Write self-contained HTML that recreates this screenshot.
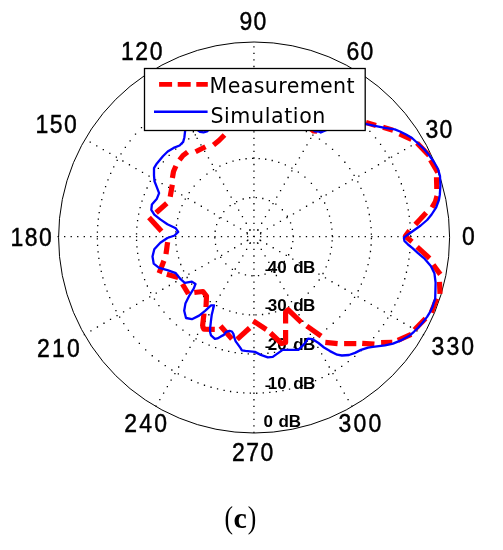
<!DOCTYPE html>
<html><head><meta charset="utf-8"><style>
html,body{margin:0;padding:0;background:#fff;}
svg{display:block;}
.ang{font-family:"Liberation Sans",Arial,sans-serif;font-size:25px;letter-spacing:1.3px;fill:#000;stroke:#000;stroke-width:0.45px;}
.db{font-family:"Liberation Sans",Arial,sans-serif;font-weight:bold;font-size:17px;fill:#000;}
.mn{font-size:20px;font-weight:normal;}
.red{fill:none;stroke:#f00;stroke-width:5.2;stroke-linejoin:round;stroke-linecap:butt;}
.leg{font-family:"DejaVu Sans",sans-serif;font-size:20.6px;fill:#000;}
.cap{font-family:"Liberation Serif",serif;font-size:30px;fill:#000;}
</style></head><body>
<svg width="503" height="550" viewBox="0 0 503 550">
<rect width="503" height="550" fill="#fff"/>
<g>
<path d="M57.5 236h1.3v1.3h-1.3zM64.03 236h1.3v1.3h-1.3zM70.57 236h1.3v1.3h-1.3zM77.1 236h1.3v1.3h-1.3zM83.64 236h1.3v1.3h-1.3zM90.17 236h1.3v1.3h-1.3zM96.71 236h1.3v1.3h-1.3zM103.24 236h1.3v1.3h-1.3zM109.78 236h1.3v1.3h-1.3zM116.31 236h1.3v1.3h-1.3zM122.85 236h1.3v1.3h-1.3zM129.38 236h1.3v1.3h-1.3zM135.92 236h1.3v1.3h-1.3zM142.45 236h1.3v1.3h-1.3zM148.99 236h1.3v1.3h-1.3zM155.52 236h1.3v1.3h-1.3zM162.06 236h1.3v1.3h-1.3zM168.59 236h1.3v1.3h-1.3zM175.13 236h1.3v1.3h-1.3zM181.66 236h1.3v1.3h-1.3zM188.2 236h1.3v1.3h-1.3zM194.73 236h1.3v1.3h-1.3zM201.27 236h1.3v1.3h-1.3zM207.8 236h1.3v1.3h-1.3zM214.34 236h1.3v1.3h-1.3zM220.87 236h1.3v1.3h-1.3zM227.41 236h1.3v1.3h-1.3zM233.94 236h1.3v1.3h-1.3zM240.48 236h1.3v1.3h-1.3zM247.01 236h1.3v1.3h-1.3zM253.55 236h1.3v1.3h-1.3zM260.09 236h1.3v1.3h-1.3zM266.62 236h1.3v1.3h-1.3zM273.15 236h1.3v1.3h-1.3zM279.69 236h1.3v1.3h-1.3zM286.23 236h1.3v1.3h-1.3zM292.76 236h1.3v1.3h-1.3zM299.3 236h1.3v1.3h-1.3zM305.83 236h1.3v1.3h-1.3zM312.37 236h1.3v1.3h-1.3zM318.9 236h1.3v1.3h-1.3zM325.44 236h1.3v1.3h-1.3zM331.97 236h1.3v1.3h-1.3zM338.5 236h1.3v1.3h-1.3zM345.04 236h1.3v1.3h-1.3zM351.57 236h1.3v1.3h-1.3zM358.11 236h1.3v1.3h-1.3zM364.64 236h1.3v1.3h-1.3zM371.18 236h1.3v1.3h-1.3zM377.72 236h1.3v1.3h-1.3zM384.25 236h1.3v1.3h-1.3zM390.79 236h1.3v1.3h-1.3zM397.32 236h1.3v1.3h-1.3zM403.86 236h1.3v1.3h-1.3zM410.39 236h1.3v1.3h-1.3zM416.93 236h1.3v1.3h-1.3zM423.46 236h1.3v1.3h-1.3zM430 236h1.3v1.3h-1.3zM436.53 236h1.3v1.3h-1.3zM443.06 236h1.3v1.3h-1.3zM83.73 333.9h1.3v1.3h-1.3zM90.27 330.13h1.3v1.3h-1.3zM96.8 326.35h1.3v1.3h-1.3zM103.34 322.58h1.3v1.3h-1.3zM109.87 318.81h1.3v1.3h-1.3zM116.41 315.04h1.3v1.3h-1.3zM122.94 311.26h1.3v1.3h-1.3zM129.48 307.49h1.3v1.3h-1.3zM136.01 303.72h1.3v1.3h-1.3zM142.55 299.94h1.3v1.3h-1.3zM149.08 296.17h1.3v1.3h-1.3zM155.62 292.4h1.3v1.3h-1.3zM162.15 288.62h1.3v1.3h-1.3zM168.69 284.85h1.3v1.3h-1.3zM175.22 281.08h1.3v1.3h-1.3zM181.76 277.31h1.3v1.3h-1.3zM188.29 273.53h1.3v1.3h-1.3zM194.83 269.76h1.3v1.3h-1.3zM201.36 265.99h1.3v1.3h-1.3zM207.9 262.21h1.3v1.3h-1.3zM214.43 258.44h1.3v1.3h-1.3zM220.97 254.67h1.3v1.3h-1.3zM227.5 250.89h1.3v1.3h-1.3zM234.04 247.12h1.3v1.3h-1.3zM240.57 243.35h1.3v1.3h-1.3zM247.11 239.58h1.3v1.3h-1.3zM253.64 235.8h1.3v1.3h-1.3zM260.18 232.03h1.3v1.3h-1.3zM266.71 228.26h1.3v1.3h-1.3zM273.25 224.48h1.3v1.3h-1.3zM279.78 220.71h1.3v1.3h-1.3zM286.32 216.94h1.3v1.3h-1.3zM292.85 213.16h1.3v1.3h-1.3zM299.39 209.39h1.3v1.3h-1.3zM305.92 205.62h1.3v1.3h-1.3zM312.46 201.85h1.3v1.3h-1.3zM318.99 198.07h1.3v1.3h-1.3zM325.53 194.3h1.3v1.3h-1.3zM332.06 190.53h1.3v1.3h-1.3zM338.6 186.75h1.3v1.3h-1.3zM345.13 182.98h1.3v1.3h-1.3zM351.67 179.21h1.3v1.3h-1.3zM358.2 175.43h1.3v1.3h-1.3zM364.74 171.66h1.3v1.3h-1.3zM371.27 167.89h1.3v1.3h-1.3zM377.81 164.12h1.3v1.3h-1.3zM384.34 160.34h1.3v1.3h-1.3zM390.88 156.57h1.3v1.3h-1.3zM397.41 152.8h1.3v1.3h-1.3zM403.95 149.02h1.3v1.3h-1.3zM410.48 145.25h1.3v1.3h-1.3zM417.02 141.48h1.3v1.3h-1.3zM155.4 405.57h1.3v1.3h-1.3zM159.17 399.03h1.3v1.3h-1.3zM162.95 392.5h1.3v1.3h-1.3zM166.72 385.96h1.3v1.3h-1.3zM170.49 379.43h1.3v1.3h-1.3zM174.26 372.89h1.3v1.3h-1.3zM178.04 366.36h1.3v1.3h-1.3zM181.81 359.82h1.3v1.3h-1.3zM185.58 353.29h1.3v1.3h-1.3zM189.36 346.75h1.3v1.3h-1.3zM193.13 340.22h1.3v1.3h-1.3zM196.9 333.68h1.3v1.3h-1.3zM200.68 327.15h1.3v1.3h-1.3zM204.45 320.61h1.3v1.3h-1.3zM208.22 314.08h1.3v1.3h-1.3zM211.99 307.54h1.3v1.3h-1.3zM215.77 301.01h1.3v1.3h-1.3zM219.54 294.47h1.3v1.3h-1.3zM223.31 287.94h1.3v1.3h-1.3zM227.09 281.4h1.3v1.3h-1.3zM230.86 274.87h1.3v1.3h-1.3zM234.63 268.33h1.3v1.3h-1.3zM238.41 261.8h1.3v1.3h-1.3zM242.18 255.26h1.3v1.3h-1.3zM245.95 248.73h1.3v1.3h-1.3zM249.72 242.19h1.3v1.3h-1.3zM253.5 235.66h1.3v1.3h-1.3zM257.27 229.12h1.3v1.3h-1.3zM261.04 222.59h1.3v1.3h-1.3zM264.82 216.05h1.3v1.3h-1.3zM268.59 209.52h1.3v1.3h-1.3zM272.36 202.98h1.3v1.3h-1.3zM276.14 196.45h1.3v1.3h-1.3zM279.91 189.91h1.3v1.3h-1.3zM283.68 183.38h1.3v1.3h-1.3zM287.45 176.84h1.3v1.3h-1.3zM291.23 170.31h1.3v1.3h-1.3zM295 163.77h1.3v1.3h-1.3zM298.77 157.24h1.3v1.3h-1.3zM302.55 150.7h1.3v1.3h-1.3zM306.32 144.17h1.3v1.3h-1.3zM310.09 137.63h1.3v1.3h-1.3zM313.87 131.1h1.3v1.3h-1.3zM317.64 124.56h1.3v1.3h-1.3zM321.41 118.03h1.3v1.3h-1.3zM325.18 111.49h1.3v1.3h-1.3zM328.96 104.96h1.3v1.3h-1.3zM332.73 98.42h1.3v1.3h-1.3zM336.5 91.89h1.3v1.3h-1.3zM340.28 85.35h1.3v1.3h-1.3zM344.05 78.82h1.3v1.3h-1.3zM347.82 72.28h1.3v1.3h-1.3zM253.3 431.8h1.3v1.3h-1.3zM253.3 425.27h1.3v1.3h-1.3zM253.3 418.73h1.3v1.3h-1.3zM253.3 412.2h1.3v1.3h-1.3zM253.3 405.66h1.3v1.3h-1.3zM253.3 399.12h1.3v1.3h-1.3zM253.3 392.59h1.3v1.3h-1.3zM253.3 386.06h1.3v1.3h-1.3zM253.3 379.52h1.3v1.3h-1.3zM253.3 372.99h1.3v1.3h-1.3zM253.3 366.45h1.3v1.3h-1.3zM253.3 359.92h1.3v1.3h-1.3zM253.3 353.38h1.3v1.3h-1.3zM253.3 346.85h1.3v1.3h-1.3zM253.3 340.31h1.3v1.3h-1.3zM253.3 333.78h1.3v1.3h-1.3zM253.3 327.24h1.3v1.3h-1.3zM253.3 320.71h1.3v1.3h-1.3zM253.3 314.17h1.3v1.3h-1.3zM253.3 307.64h1.3v1.3h-1.3zM253.3 301.1h1.3v1.3h-1.3zM253.3 294.57h1.3v1.3h-1.3zM253.3 288.03h1.3v1.3h-1.3zM253.3 281.5h1.3v1.3h-1.3zM253.3 274.96h1.3v1.3h-1.3zM253.3 268.43h1.3v1.3h-1.3zM253.3 261.89h1.3v1.3h-1.3zM253.3 255.35h1.3v1.3h-1.3zM253.3 248.82h1.3v1.3h-1.3zM253.3 242.28h1.3v1.3h-1.3zM253.3 235.75h1.3v1.3h-1.3zM253.3 229.22h1.3v1.3h-1.3zM253.3 222.68h1.3v1.3h-1.3zM253.3 216.15h1.3v1.3h-1.3zM253.3 209.61h1.3v1.3h-1.3zM253.3 203.08h1.3v1.3h-1.3zM253.3 196.54h1.3v1.3h-1.3zM253.3 190h1.3v1.3h-1.3zM253.3 183.47h1.3v1.3h-1.3zM253.3 176.94h1.3v1.3h-1.3zM253.3 170.4h1.3v1.3h-1.3zM253.3 163.87h1.3v1.3h-1.3zM253.3 157.33h1.3v1.3h-1.3zM253.3 150.8h1.3v1.3h-1.3zM253.3 144.26h1.3v1.3h-1.3zM253.3 137.73h1.3v1.3h-1.3zM253.3 131.19h1.3v1.3h-1.3zM253.3 124.66h1.3v1.3h-1.3zM253.3 118.12h1.3v1.3h-1.3zM253.3 111.58h1.3v1.3h-1.3zM253.3 105.05h1.3v1.3h-1.3zM253.3 98.51h1.3v1.3h-1.3zM253.3 91.98h1.3v1.3h-1.3zM253.3 85.44h1.3v1.3h-1.3zM253.3 78.91h1.3v1.3h-1.3zM253.3 72.38h1.3v1.3h-1.3zM253.3 65.84h1.3v1.3h-1.3zM253.3 59.31h1.3v1.3h-1.3zM253.3 52.77h1.3v1.3h-1.3zM253.3 46.24h1.3v1.3h-1.3zM351.2 405.57h1.3v1.3h-1.3zM347.43 399.03h1.3v1.3h-1.3zM343.65 392.5h1.3v1.3h-1.3zM339.88 385.96h1.3v1.3h-1.3zM336.11 379.43h1.3v1.3h-1.3zM332.34 372.89h1.3v1.3h-1.3zM328.56 366.36h1.3v1.3h-1.3zM324.79 359.82h1.3v1.3h-1.3zM321.02 353.29h1.3v1.3h-1.3zM317.24 346.75h1.3v1.3h-1.3zM313.47 340.22h1.3v1.3h-1.3zM309.7 333.68h1.3v1.3h-1.3zM305.92 327.15h1.3v1.3h-1.3zM302.15 320.61h1.3v1.3h-1.3zM298.38 314.08h1.3v1.3h-1.3zM294.61 307.54h1.3v1.3h-1.3zM290.83 301.01h1.3v1.3h-1.3zM287.06 294.47h1.3v1.3h-1.3zM283.29 287.94h1.3v1.3h-1.3zM279.51 281.4h1.3v1.3h-1.3zM275.74 274.87h1.3v1.3h-1.3zM271.97 268.33h1.3v1.3h-1.3zM268.19 261.8h1.3v1.3h-1.3zM264.42 255.26h1.3v1.3h-1.3zM260.65 248.73h1.3v1.3h-1.3zM256.88 242.19h1.3v1.3h-1.3zM253.1 235.66h1.3v1.3h-1.3zM249.33 229.12h1.3v1.3h-1.3zM245.56 222.59h1.3v1.3h-1.3zM241.78 216.05h1.3v1.3h-1.3zM238.01 209.52h1.3v1.3h-1.3zM234.24 202.98h1.3v1.3h-1.3zM230.46 196.45h1.3v1.3h-1.3zM226.69 189.91h1.3v1.3h-1.3zM222.92 183.38h1.3v1.3h-1.3zM219.15 176.84h1.3v1.3h-1.3zM215.37 170.31h1.3v1.3h-1.3zM211.6 163.77h1.3v1.3h-1.3zM207.83 157.24h1.3v1.3h-1.3zM204.05 150.7h1.3v1.3h-1.3zM200.28 144.17h1.3v1.3h-1.3zM196.51 137.63h1.3v1.3h-1.3zM192.73 131.1h1.3v1.3h-1.3zM188.96 124.56h1.3v1.3h-1.3zM185.19 118.03h1.3v1.3h-1.3zM181.42 111.49h1.3v1.3h-1.3zM177.64 104.96h1.3v1.3h-1.3zM173.87 98.42h1.3v1.3h-1.3zM170.1 91.89h1.3v1.3h-1.3zM166.32 85.35h1.3v1.3h-1.3zM162.55 78.82h1.3v1.3h-1.3zM158.78 72.28h1.3v1.3h-1.3zM422.87 333.9h1.3v1.3h-1.3zM416.33 330.13h1.3v1.3h-1.3zM409.8 326.35h1.3v1.3h-1.3zM403.26 322.58h1.3v1.3h-1.3zM396.73 318.81h1.3v1.3h-1.3zM390.19 315.04h1.3v1.3h-1.3zM383.66 311.26h1.3v1.3h-1.3zM377.12 307.49h1.3v1.3h-1.3zM370.59 303.72h1.3v1.3h-1.3zM364.05 299.94h1.3v1.3h-1.3zM357.52 296.17h1.3v1.3h-1.3zM350.98 292.4h1.3v1.3h-1.3zM344.45 288.62h1.3v1.3h-1.3zM337.91 284.85h1.3v1.3h-1.3zM331.38 281.08h1.3v1.3h-1.3zM324.84 277.31h1.3v1.3h-1.3zM318.31 273.53h1.3v1.3h-1.3zM311.77 269.76h1.3v1.3h-1.3zM305.24 265.99h1.3v1.3h-1.3zM298.7 262.21h1.3v1.3h-1.3zM292.17 258.44h1.3v1.3h-1.3zM285.63 254.67h1.3v1.3h-1.3zM279.1 250.89h1.3v1.3h-1.3zM272.56 247.12h1.3v1.3h-1.3zM266.03 243.35h1.3v1.3h-1.3zM259.49 239.58h1.3v1.3h-1.3zM252.96 235.8h1.3v1.3h-1.3zM246.42 232.03h1.3v1.3h-1.3zM239.89 228.26h1.3v1.3h-1.3zM233.35 224.48h1.3v1.3h-1.3zM226.82 220.71h1.3v1.3h-1.3zM220.28 216.94h1.3v1.3h-1.3zM213.75 213.16h1.3v1.3h-1.3zM207.21 209.39h1.3v1.3h-1.3zM200.68 205.62h1.3v1.3h-1.3zM194.14 201.85h1.3v1.3h-1.3zM187.61 198.07h1.3v1.3h-1.3zM181.07 194.3h1.3v1.3h-1.3zM174.54 190.53h1.3v1.3h-1.3zM168 186.75h1.3v1.3h-1.3zM161.47 182.98h1.3v1.3h-1.3zM154.93 179.21h1.3v1.3h-1.3zM148.4 175.43h1.3v1.3h-1.3zM141.86 171.66h1.3v1.3h-1.3zM135.33 167.89h1.3v1.3h-1.3zM128.79 164.12h1.3v1.3h-1.3zM122.26 160.34h1.3v1.3h-1.3zM115.72 156.57h1.3v1.3h-1.3zM109.19 152.8h1.3v1.3h-1.3zM102.65 149.02h1.3v1.3h-1.3zM96.12 145.25h1.3v1.3h-1.3zM89.58 141.48h1.3v1.3h-1.3zM292.44 235.22h1.3v1.3h-1.3zM291.76 228.7h1.3v1.3h-1.3zM289.92 222.16h1.3v1.3h-1.3zM286.72 215.61h1.3v1.3h-1.3zM281.73 209.08h1.3v1.3h-1.3zM275.24 203.57h1.3v1.3h-1.3zM268.7 200.01h1.3v1.3h-1.3zM262.16 197.87h1.3v1.3h-1.3zM255.64 196.92h1.3v1.3h-1.3zM249.09 197.08h1.3v1.3h-1.3zM242.54 198.36h1.3v1.3h-1.3zM236 200.88h1.3v1.3h-1.3zM229.47 204.94h1.3v1.3h-1.3zM223.19 210.98h1.3v1.3h-1.3zM218.78 217.54h1.3v1.3h-1.3zM216.02 224.06h1.3v1.3h-1.3zM214.52 230.61h1.3v1.3h-1.3zM214.17 237.15h1.3v1.3h-1.3zM214.91 243.66h1.3v1.3h-1.3zM216.81 250.18h1.3v1.3h-1.3zM220.09 256.73h1.3v1.3h-1.3zM225.21 263.27h1.3v1.3h-1.3zM231.74 268.68h1.3v1.3h-1.3zM238.28 272.15h1.3v1.3h-1.3zM244.8 274.22h1.3v1.3h-1.3zM251.33 275.1h1.3v1.3h-1.3zM257.88 274.88h1.3v1.3h-1.3zM264.42 273.54h1.3v1.3h-1.3zM270.96 270.94h1.3v1.3h-1.3zM277.49 266.78h1.3v1.3h-1.3zM283.73 260.64h1.3v1.3h-1.3zM288.01 254.1h1.3v1.3h-1.3zM290.7 247.59h1.3v1.3h-1.3zM292.13 241.03h1.3v1.3h-1.3zM331.59 235.1h1.3v1.3h-1.3zM331.24 228.55h1.3v1.3h-1.3zM330.33 221.97h1.3v1.3h-1.3zM328.85 215.42h1.3v1.3h-1.3zM326.77 208.94h1.3v1.3h-1.3zM324.01 202.37h1.3v1.3h-1.3zM320.53 195.86h1.3v1.3h-1.3zM316.16 189.32h1.3v1.3h-1.3zM310.77 182.82h1.3v1.3h-1.3zM304.28 176.57h1.3v1.3h-1.3zM297.72 171.52h1.3v1.3h-1.3zM291.24 167.5h1.3v1.3h-1.3zM284.7 164.27h1.3v1.3h-1.3zM278.12 161.74h1.3v1.3h-1.3zM271.58 159.86h1.3v1.3h-1.3zM265.06 158.59h1.3v1.3h-1.3zM258.54 157.88h1.3v1.3h-1.3zM251.99 157.71h1.3v1.3h-1.3zM245.44 158.1h1.3v1.3h-1.3zM238.95 159.03h1.3v1.3h-1.3zM232.4 160.54h1.3v1.3h-1.3zM225.85 162.67h1.3v1.3h-1.3zM219.3 165.47h1.3v1.3h-1.3zM212.81 168.98h1.3v1.3h-1.3zM206.29 173.38h1.3v1.3h-1.3zM199.7 178.92h1.3v1.3h-1.3zM193.55 185.4h1.3v1.3h-1.3zM188.59 191.92h1.3v1.3h-1.3zM184.61 198.42h1.3v1.3h-1.3zM181.41 204.98h1.3v1.3h-1.3zM178.93 211.49h1.3v1.3h-1.3zM177.09 218.04h1.3v1.3h-1.3zM175.84 224.56h1.3v1.3h-1.3zM175.15 231.17h1.3v1.3h-1.3zM175.02 237.64h1.3v1.3h-1.3zM175.43 244.18h1.3v1.3h-1.3zM176.4 250.75h1.3v1.3h-1.3zM177.95 257.29h1.3v1.3h-1.3zM180.11 263.83h1.3v1.3h-1.3zM182.91 270.3h1.3v1.3h-1.3zM186.5 276.84h1.3v1.3h-1.3zM190.98 283.41h1.3v1.3h-1.3zM196.56 289.96h1.3v1.3h-1.3zM203.01 296.02h1.3v1.3h-1.3zM209.56 300.94h1.3v1.3h-1.3zM216.08 304.89h1.3v1.3h-1.3zM222.66 308.05h1.3v1.3h-1.3zM229.18 310.49h1.3v1.3h-1.3zM235.74 312.31h1.3v1.3h-1.3zM242.27 313.52h1.3v1.3h-1.3zM248.79 314.17h1.3v1.3h-1.3zM255.35 314.27h1.3v1.3h-1.3zM261.89 313.83h1.3v1.3h-1.3zM268.37 312.84h1.3v1.3h-1.3zM274.91 311.26h1.3v1.3h-1.3zM281.44 309.07h1.3v1.3h-1.3zM287.97 306.21h1.3v1.3h-1.3zM294.56 302.55h1.3v1.3h-1.3zM301.1 298.02h1.3v1.3h-1.3zM307.61 292.4h1.3v1.3h-1.3zM313.63 285.91h1.3v1.3h-1.3zM318.52 279.33h1.3v1.3h-1.3zM322.38 272.86h1.3v1.3h-1.3zM325.51 266.27h1.3v1.3h-1.3zM327.92 259.73h1.3v1.3h-1.3zM329.68 253.24h1.3v1.3h-1.3zM330.86 246.71h1.3v1.3h-1.3zM331.49 240.18h1.3v1.3h-1.3zM370.72 233.42h1.3v1.3h-1.3zM370.4 226.91h1.3v1.3h-1.3zM369.71 220.43h1.3v1.3h-1.3zM368.65 213.87h1.3v1.3h-1.3zM367.18 207.27h1.3v1.3h-1.3zM365.34 200.76h1.3v1.3h-1.3zM363.08 194.25h1.3v1.3h-1.3zM360.34 187.67h1.3v1.3h-1.3zM357.16 181.15h1.3v1.3h-1.3zM353.44 174.63h1.3v1.3h-1.3zM349.11 168.06h1.3v1.3h-1.3zM344.19 161.61h1.3v1.3h-1.3zM338.41 155.06h1.3v1.3h-1.3zM331.89 148.72h1.3v1.3h-1.3zM325.38 143.27h1.3v1.3h-1.3zM318.81 138.52h1.3v1.3h-1.3zM312.24 134.41h1.3v1.3h-1.3zM305.74 130.91h1.3v1.3h-1.3zM299.27 127.92h1.3v1.3h-1.3zM292.62 125.33h1.3v1.3h-1.3zM286.19 123.25h1.3v1.3h-1.3zM279.64 121.54h1.3v1.3h-1.3zM273.01 120.22h1.3v1.3h-1.3zM266.55 119.3h1.3v1.3h-1.3zM259.94 118.74h1.3v1.3h-1.3zM253.42 118.55h1.3v1.3h-1.3zM246.91 118.72h1.3v1.3h-1.3zM240.41 119.26h1.3v1.3h-1.3zM233.83 120.17h1.3v1.3h-1.3zM227.32 121.46h1.3v1.3h-1.3zM220.77 123.15h1.3v1.3h-1.3zM214.21 125.25h1.3v1.3h-1.3zM207.67 127.77h1.3v1.3h-1.3zM201.19 130.74h1.3v1.3h-1.3zM194.68 134.22h1.3v1.3h-1.3zM188.1 138.31h1.3v1.3h-1.3zM181.61 142.97h1.3v1.3h-1.3zM175.08 148.39h1.3v1.3h-1.3zM168.53 154.71h1.3v1.3h-1.3zM162.72 161.23h1.3v1.3h-1.3zM157.71 167.76h1.3v1.3h-1.3zM153.35 174.32h1.3v1.3h-1.3zM149.62 180.82h1.3v1.3h-1.3zM146.41 187.33h1.3v1.3h-1.3zM143.65 193.91h1.3v1.3h-1.3zM141.37 200.41h1.3v1.3h-1.3zM139.48 207.03h1.3v1.3h-1.3zM138.02 213.51h1.3v1.3h-1.3zM136.94 220.06h1.3v1.3h-1.3zM136.23 226.54h1.3v1.3h-1.3zM135.88 233.17h1.3v1.3h-1.3zM135.91 239.69h1.3v1.3h-1.3zM136.29 246.2h1.3v1.3h-1.3zM137.04 252.67h1.3v1.3h-1.3zM138.17 259.21h1.3v1.3h-1.3zM139.69 265.8h1.3v1.3h-1.3zM141.6 272.29h1.3v1.3h-1.3zM143.96 278.89h1.3v1.3h-1.3zM146.72 285.34h1.3v1.3h-1.3zM150.02 291.93h1.3v1.3h-1.3zM153.81 298.41h1.3v1.3h-1.3zM158.28 305.04h1.3v1.3h-1.3zM163.35 311.53h1.3v1.3h-1.3zM169.3 318.09h1.3v1.3h-1.3zM175.81 324.26h1.3v1.3h-1.3zM182.29 329.55h1.3v1.3h-1.3zM188.82 334.17h1.3v1.3h-1.3zM195.43 338.2h1.3v1.3h-1.3zM201.96 341.64h1.3v1.3h-1.3zM208.47 344.56h1.3v1.3h-1.3zM215.02 347.04h1.3v1.3h-1.3zM221.6 349.09h1.3v1.3h-1.3zM228.04 350.7h1.3v1.3h-1.3zM234.56 351.95h1.3v1.3h-1.3zM241.15 352.82h1.3v1.3h-1.3zM247.64 353.31h1.3v1.3h-1.3zM254.28 353.45h1.3v1.3h-1.3zM260.8 353.21h1.3v1.3h-1.3zM267.29 352.61h1.3v1.3h-1.3zM273.86 351.64h1.3v1.3h-1.3zM280.36 350.29h1.3v1.3h-1.3zM286.89 348.54h1.3v1.3h-1.3zM293.43 346.38h1.3v1.3h-1.3zM299.95 343.79h1.3v1.3h-1.3zM306.51 340.7h1.3v1.3h-1.3zM312.98 337.16h1.3v1.3h-1.3zM319.52 333h1.3v1.3h-1.3zM326.06 328.2h1.3v1.3h-1.3zM332.62 322.62h1.3v1.3h-1.3zM339.09 316.22h1.3v1.3h-1.3zM344.73 309.72h1.3v1.3h-1.3zM349.67 303.13h1.3v1.3h-1.3zM353.89 296.63h1.3v1.3h-1.3zM357.56 290.09h1.3v1.3h-1.3zM360.7 283.55h1.3v1.3h-1.3zM363.34 277.06h1.3v1.3h-1.3zM365.56 270.54h1.3v1.3h-1.3zM367.39 263.9h1.3v1.3h-1.3zM368.78 257.4h1.3v1.3h-1.3zM369.81 250.84h1.3v1.3h-1.3zM370.45 244.36h1.3v1.3h-1.3zM370.74 237.84h1.3v1.3h-1.3zM409.9 235.34h1.3v1.3h-1.3zM409.73 228.79h1.3v1.3h-1.3zM409.29 222.24h1.3v1.3h-1.3zM408.58 215.72h1.3v1.3h-1.3zM407.6 209.24h1.3v1.3h-1.3zM406.31 202.64h1.3v1.3h-1.3zM404.73 196.1h1.3v1.3h-1.3zM402.88 189.64h1.3v1.3h-1.3zM400.7 183.11h1.3v1.3h-1.3zM398.17 176.53h1.3v1.3h-1.3zM395.27 169.92h1.3v1.3h-1.3zM392.08 163.45h1.3v1.3h-1.3zM388.42 156.85h1.3v1.3h-1.3zM384.46 150.43h1.3v1.3h-1.3zM379.9 143.82h1.3v1.3h-1.3zM374.9 137.32h1.3v1.3h-1.3zM369.24 130.73h1.3v1.3h-1.3zM362.98 124.23h1.3v1.3h-1.3zM356.49 118.21h1.3v1.3h-1.3zM349.93 112.77h1.3v1.3h-1.3zM343.35 107.88h1.3v1.3h-1.3zM336.79 103.52h1.3v1.3h-1.3zM330.32 99.65h1.3v1.3h-1.3zM323.81 96.17h1.3v1.3h-1.3zM317.29 93.07h1.3v1.3h-1.3zM310.64 90.28h1.3v1.3h-1.3zM304.18 87.9h1.3v1.3h-1.3zM297.62 85.8h1.3v1.3h-1.3zM291.13 84.04h1.3v1.3h-1.3zM284.57 82.55h1.3v1.3h-1.3zM277.96 81.35h1.3v1.3h-1.3zM271.46 80.46h1.3v1.3h-1.3zM264.93 79.83h1.3v1.3h-1.3zM258.38 79.48h1.3v1.3h-1.3zM251.82 79.41h1.3v1.3h-1.3zM245.43 79.6h1.3v1.3h-1.3zM238.89 80.06h1.3v1.3h-1.3zM232.21 80.83h1.3v1.3h-1.3zM225.73 81.85h1.3v1.3h-1.3zM219.3 83.14h1.3v1.3h-1.3zM212.61 84.78h1.3v1.3h-1.3zM206.16 86.66h1.3v1.3h-1.3zM199.64 88.88h1.3v1.3h-1.3zM193.07 91.45h1.3v1.3h-1.3zM186.62 94.3h1.3v1.3h-1.3zM180.02 97.6h1.3v1.3h-1.3zM173.44 101.29h1.3v1.3h-1.3zM166.91 105.38h1.3v1.3h-1.3zM160.46 109.89h1.3v1.3h-1.3zM153.86 115.02h1.3v1.3h-1.3zM147.3 120.73h1.3v1.3h-1.3zM140.84 127.02h1.3v1.3h-1.3zM134.86 133.55h1.3v1.3h-1.3zM129.46 140.15h1.3v1.3h-1.3zM124.71 146.63h1.3v1.3h-1.3zM120.38 153.2h1.3v1.3h-1.3zM116.55 159.7h1.3v1.3h-1.3zM113.1 166.22h1.3v1.3h-1.3zM110.04 172.75h1.3v1.3h-1.3zM107.34 179.27h1.3v1.3h-1.3zM104.93 185.9h1.3v1.3h-1.3zM102.92 192.31h1.3v1.3h-1.3zM101.14 198.96h1.3v1.3h-1.3zM99.69 205.53h1.3v1.3h-1.3zM98.55 211.99h1.3v1.3h-1.3zM97.68 218.49h1.3v1.3h-1.3zM97.09 225.02h1.3v1.3h-1.3zM96.76 231.57h1.3v1.3h-1.3zM96.71 238.13h1.3v1.3h-1.3zM96.94 244.69h1.3v1.3h-1.3zM97.44 251.23h1.3v1.3h-1.3zM98.22 257.74h1.3v1.3h-1.3zM99.26 264.22h1.3v1.3h-1.3zM100.62 270.8h1.3v1.3h-1.3zM102.25 277.32h1.3v1.3h-1.3zM104.21 283.92h1.3v1.3h-1.3zM106.46 290.43h1.3v1.3h-1.3zM109.06 296.99h1.3v1.3h-1.3zM111.96 303.42h1.3v1.3h-1.3zM115.29 310h1.3v1.3h-1.3zM119.01 316.56h1.3v1.3h-1.3zM123.14 323.07h1.3v1.3h-1.3zM127.77 329.63h1.3v1.3h-1.3zM132.95 336.2h1.3v1.3h-1.3zM138.7 342.72h1.3v1.3h-1.3zM145.03 349.14h1.3v1.3h-1.3zM151.6 355.08h1.3v1.3h-1.3zM158.1 360.34h1.3v1.3h-1.3zM164.6 365.06h1.3v1.3h-1.3zM171.2 369.35h1.3v1.3h-1.3zM177.71 373.15h1.3v1.3h-1.3zM184.26 376.56h1.3v1.3h-1.3zM190.81 379.59h1.3v1.3h-1.3zM197.33 382.26h1.3v1.3h-1.3zM203.82 384.58h1.3v1.3h-1.3zM210.4 386.61h1.3v1.3h-1.3zM216.9 388.31h1.3v1.3h-1.3zM223.47 389.73h1.3v1.3h-1.3zM229.94 390.85h1.3v1.3h-1.3zM236.6 391.71h1.3v1.3h-1.3zM243.14 392.27h1.3v1.3h-1.3zM249.69 392.56h1.3v1.3h-1.3zM256.09 392.58h1.3v1.3h-1.3zM262.64 392.32h1.3v1.3h-1.3zM269.18 391.79h1.3v1.3h-1.3zM275.69 390.99h1.3v1.3h-1.3zM282.32 389.89h1.3v1.3h-1.3zM288.9 388.5h1.3v1.3h-1.3zM295.41 386.83h1.3v1.3h-1.3zM301.85 384.88h1.3v1.3h-1.3zM308.5 382.55h1.3v1.3h-1.3zM314.89 379.98h1.3v1.3h-1.3zM321.46 376.99h1.3v1.3h-1.3zM328.02 373.62h1.3v1.3h-1.3zM334.56 369.87h1.3v1.3h-1.3zM341.05 365.7h1.3v1.3h-1.3zM347.59 361.03h1.3v1.3h-1.3zM354.13 355.82h1.3v1.3h-1.3zM360.74 349.93h1.3v1.3h-1.3zM367.12 343.56h1.3v1.3h-1.3zM373.02 336.95h1.3v1.3h-1.3zM378.23 330.42h1.3v1.3h-1.3zM382.91 323.89h1.3v1.3h-1.3zM387.08 317.4h1.3v1.3h-1.3zM390.84 310.87h1.3v1.3h-1.3zM394.22 304.3h1.3v1.3h-1.3zM397.22 297.74h1.3v1.3h-1.3zM399.85 291.2h1.3v1.3h-1.3zM402.13 284.7h1.3v1.3h-1.3zM404.13 278.11h1.3v1.3h-1.3zM405.8 271.6h1.3v1.3h-1.3zM407.19 265.02h1.3v1.3h-1.3zM408.27 258.55h1.3v1.3h-1.3zM409.08 252.04h1.3v1.3h-1.3zM409.61 245.51h1.3v1.3h-1.3zM409.87 238.95h1.3v1.3h-1.3zM249.29 229.66h1.3v1.3h-1.3zM257.24 229.66h1.3v1.3h-1.3zM246.66 233.24h1.3v1.3h-1.3zM259.94 233.24h1.3v1.3h-1.3zM246.66 240h1.3v1.3h-1.3zM259.94 240h1.3v1.3h-1.3zM249.29 242.79h1.3v1.3h-1.3zM257.24 242.79h1.3v1.3h-1.3z" fill="#000"/>
</g>
<ellipse cx="254.08" cy="237.5" rx="195.5" ry="195.5" fill="none" stroke="#000" stroke-width="1.0"/>
<g>
<text y="273" class="db"><tspan x="264.4" dy="3.0" class="mn">-</tspan><tspan x="267.8" dy="-3.0">40 </tspan><tspan x="293.2" letter-spacing="-0.5">dB</tspan></text>
<text y="310.9" class="db"><tspan x="264.4" dy="3.0" class="mn">-</tspan><tspan x="267.8" dy="-3.0">30 </tspan><tspan x="293.2" letter-spacing="-0.5">dB</tspan></text>
<text y="350.2" class="db"><tspan x="264.4" dy="3.0" class="mn">-</tspan><tspan x="267.8" dy="-3.0">20 </tspan><tspan x="293.2" letter-spacing="-0.5">dB</tspan></text>
<text y="388.6" class="db"><tspan x="264.4" dy="3.0" class="mn">-</tspan><tspan x="267.8" dy="-3.0">10 </tspan><tspan x="293.2" letter-spacing="-0.5">dB</tspan></text>
<text y="427.3" class="db"><tspan x="263.4">0 </tspan><tspan x="278.4">dB</tspan></text>
</g>
<g>
<polyline points="308,126.5 313.5,131 317,131.2" class="red"/>
<polyline points="224.5,135 219,140.5 213.5,145" class="red"/>
<polyline points="205.5,146.8 195.6,151.8" class="red"/>
<polyline points="187.6,152 183,155.5 179.5,160" class="red"/>
<polyline points="175.9,166 173.5,171.5 172.4,178" class="red"/>
<polyline points="172.3,184.8 170.2,196.7" class="red"/>
<polyline points="166.8,203.3 156.1,212.8" class="red"/>
<polyline points="149,217.6 161.5,231.3" class="red"/>
<polyline points="167.6,242.2 166,254.1" class="red"/>
<polyline points="163.9,260.7 159.1,273.2" class="red"/>
<polyline points="166.8,274.2 178.2,277.4" class="red"/>
<polyline points="182.4,284 188.4,294" class="red"/>
<polyline points="194.3,292.5 203,291.5 206.5,296 206,307" class="red"/>
<polyline points="204,313.5 202.6,325.5 203.8,329.1 214.8,329.3" class="red"/>
<polyline points="220.5,326 232,339" class="red"/>
<polyline points="237.1,339.4 249.6,328" class="red"/>
<polyline points="253.2,321 266.3,329.5" class="red"/>
<polyline points="270.5,333 281.5,343.5 285.6,342.5 285.6,330" class="red"/>
<polyline points="285.6,323.6 285.6,312 288.3,309.8 301.4,322.5" class="red"/>
<polyline points="306.8,326 321.1,336.2" class="red"/>
<polyline points="325.3,342.3 337.6,343.6" class="red"/>
<polyline points="344.1,343.6 356.3,343.6" class="red"/>
<polyline points="362.2,343.3 374.4,344.2" class="red"/>
<polyline points="381.1,342.6 392.3,342.3" class="red"/>
<polyline points="397.8,340.3 411.2,334.3" class="red"/>
<polyline points="414.5,329.8 425.5,318.5" class="red"/>
<polyline points="431.3,312.5 436.8,298.6" class="red"/>
<polyline points="440,293.8 439.5,281.8" class="red"/>
<polyline points="440.3,274.4 433.2,264.8" class="red"/>
<polyline points="429.6,258.3 417.1,246.9" class="red"/>
<polyline points="412,241.8 405.3,236.3 409.5,230.5" class="red"/>
<polyline points="415.3,224.5 426.2,212.7" class="red"/>
<polyline points="432,207.5 435.5,201.5 437,196" class="red"/>
<polyline points="436.8,189 436.5,177.2" class="red"/>
<polyline points="437.8,172.5 430.5,160" class="red"/>
<polyline points="429,155.5 417,143" class="red"/>
<polyline points="411.5,139.5 399.5,133.8" class="red"/>
<polyline points="393,130.3 383,127.3" class="red"/>
<polyline points="376,125.5 366,122.5" class="red"/>
</g>
<polyline points="350,122 366,124 374.9,125.9 384.8,127.9 394.8,129.4 400,131.5 406,134.5 412,138 418,143.5 424,149 429,155 434,162 438,169 440,176 440.4,185.5 439.8,194.9 438.9,200 436.2,207.3 431.6,214.5 427.1,220 420.7,225.5 414.4,230 408,234.5 403.9,237.7 404.4,240.9 408,244.5 412.5,248.2 417.7,252.9 424.8,258.9 430.8,266 434.4,273.2 435.6,282.7 435.2,298.9 433.8,302.5 432.7,306.4 430,312.2 427.1,316.9 422.9,322.3 418.1,327.7 413.9,331.8 408.9,336.1 400.9,340.4 393,343.6 385,345.4 372.9,346.9 368.1,347.6 361,349.9 355,352.9 349,355 341.9,355.5 337.1,354.7 330,351.1 324,347.5 318.5,343 312.7,339.2 308,338.6 304.4,343.9 298.4,349.9 288.9,349.9 282.7,349.9 277.7,353.4 272.8,356.9 267.8,357.4 260.8,354.9 254.9,351.9 249.9,351.4 245.4,350.9 241.9,350.3 240.4,347.9 237.9,344.4 235.7,341.4 234.4,337.9 233.4,333.9 231.9,331.5 229.5,330.8 226.2,331.8 223.9,334.9 220.9,336.4 217.4,338.4 214.9,338.9 211,335.4 210.2,332.5 210.1,328.5 210.9,321.4 211.7,315 214,305.4 211,305.4 205.1,310.8 199.1,315.6 191.9,319.2 186,318 184.2,310.8 185.4,303.6 189.5,295.3 193.7,288.7 195.5,284 191.9,281.6 184.8,282.8 180.6,279.2 175.8,273.2 167.4,270.2 159.1,267.8 153.7,263.6 152.5,256.5 154.3,249.3 160.3,242.8 167.4,238 174.6,235.5 178.2,231.9 175.8,228.3 167.4,224.2 160.3,219.4 154.3,214.6 151.3,209.8 151.9,204.5 156.7,199.1 159.1,193.1 156.9,187.3 154.5,181.3 154,175.3 154,168.2 156.9,163.4 162.9,156.2 167.7,151.5 173.6,147.9 179.6,145.5 183.2,141.9 184.4,137.2 185,131.8 186,127 194,127 197,129.5 200,131.8 203.5,132.3 207,131.5 209.5,129 215,127 300,127 312,129 315,131.4 319,131.6 320.7,132.5 322.5,131.6 325.5,130.5 330,128 350,122" fill="none" stroke="#00f" stroke-width="2.3" stroke-linejoin="round"/>
<rect x="144.5" y="68.5" width="220.7" height="62" fill="#fff" stroke="#000" stroke-width="1.3"/>
<line x1="159.1" y1="84.4" x2="207.8" y2="84.4" stroke="#f00" stroke-width="4.9" stroke-dasharray="13 5.6"/>
<line x1="154" y1="111.8" x2="207.6" y2="111.8" stroke="#00f" stroke-width="2.6"/>
<text x="209.6" y="93" class="leg" textLength="145" lengthAdjust="spacing">Measurement</text>
<text x="210.4" y="123" class="leg" textLength="115" lengthAdjust="spacing">Simulation</text>
<text transform="translate(239.4 30.2) scale(0.92 1)" class="ang">90</text>
<text transform="translate(346.4 59.8) scale(0.92 1)" class="ang">60</text>
<text transform="translate(121 59.8) scale(0.92 1)" class="ang" style="letter-spacing:1.7px">120</text>
<text transform="translate(35.5 132.6) scale(0.92 1)" class="ang" style="letter-spacing:1.6px">150</text>
<text transform="translate(425.4 137.6) scale(0.92 1)" class="ang">30</text>
<text transform="translate(10.5 246.3) scale(0.92 1)" class="ang" style="letter-spacing:1.6px">180</text>
<text transform="translate(462 244.8) scale(0.92 1)" class="ang">0</text>
<text transform="translate(37 357.4) scale(0.92 1)" class="ang" style="letter-spacing:2.4px">210</text>
<text transform="translate(431.5 355) scale(0.92 1)" class="ang" style="letter-spacing:2.3px">330</text>
<text transform="translate(124.2 432) scale(0.92 1)" class="ang" style="letter-spacing:2.4px">240</text>
<text transform="translate(338.5 432) scale(0.92 1)" class="ang" style="letter-spacing:2.4px">300</text>
<text transform="translate(232 460.6) scale(0.92 1)" class="ang" style="letter-spacing:1.6px">270</text>
<g class="cap"><text transform="translate(224.6 528) scale(0.8 1)" font-size="32">(</text><text x="233.6" y="528" font-weight="bold">c</text><text transform="translate(247.8 528) scale(0.8 1)" font-size="32">)</text></g>
</svg>
</body></html>
